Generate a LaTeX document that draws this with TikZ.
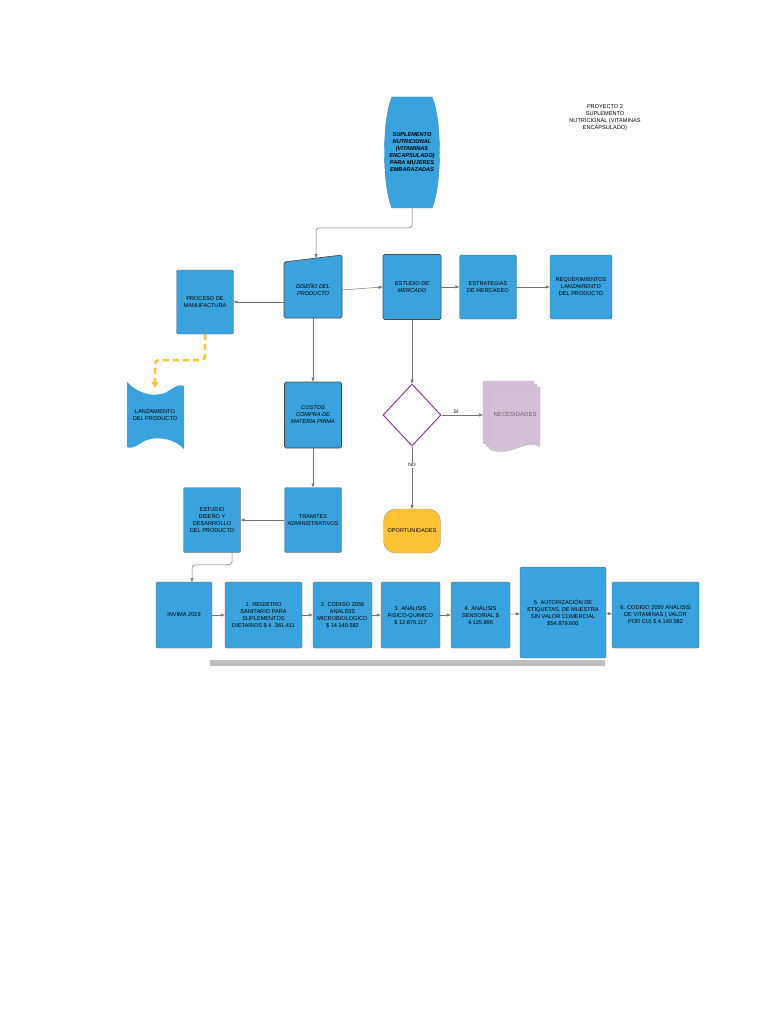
\documentclass[tikz,border=0pt]{standalone}
\usepackage{fontspec}
\setmainfont{Liberation Sans}
\usetikzlibrary{arrows.meta,shapes.geometric,shapes.symbols}
\definecolor{bl}{HTML}{3AA3DD}
\definecolor{lil}{HTML}{D5BED8}
\definecolor{yel}{HTML}{FDC235}
\definecolor{pur}{HTML}{8E3E96}
\begin{document}
\begin{tikzpicture}[x=1pt,y=-1pt,
 box/.style={draw=black!60,fill=bl,rounded corners=1.5pt,minimum width=#1,align=center,font=\fontsize{5.6}{7}\selectfont,inner sep=1pt},
 box/.default=58pt,
 lab/.style={font=\fontsize{5.6}{7}\selectfont,align=center},
 arr/.style={draw=black!55,-{Triangle[length=4pt,width=3pt]},line width=0.5pt}]
\useasboundingbox (0,0) rectangle (768,1024);
% title
\node[lab] (title) at (605,118) {PROYECTO 2\\SUPLEMENTO\\NUTRICIONAL (VITAMINAS\\ENCAPSULADO)};
% capsule
\path[fill=bl,draw=bl!80!black] (392,97) -- (432,97) .. controls (442,120) and (442,185) .. (432,208) -- (392,208) .. controls (382,185) and (382,120) .. (392,97) -- cycle;
\node[lab,font=\fontsize{5.6}{7}\selectfont\bfseries\itshape] (cap) at (412,152) {SUPLEMENTO\\NUTRICIONAL\\(VITAMINAS\\ENCAPSULADO)\\PARA MUJERES\\EMBARAZADAS};
\coordinate (capb) at (412,208);
% diseño (manual input)
\path[fill=bl,draw=black!70,line width=0.7pt,rounded corners=1.5pt] (284,262) -- (342,255) -- (342,318) -- (284,318) -- cycle;
\node[lab,font=\fontsize{5.6}{7}\selectfont\itshape,minimum width=58pt,minimum height=56pt] (dis) at (313,290) {DISEÑO DEL\\PRODUCTO};
\node[box,minimum height=65pt,draw=black!70,line width=0.7pt,font=\fontsize{5.6}{7}\selectfont\itshape] (mer) at (412,287) {ESTUDIO DE\\MERCADO};
\node[box=57pt,minimum height=64pt] (est) at (488,287) {ESTRATEGIAS\\DE MERCADEO};
\node[box=62pt,minimum height=64pt] (req) at (581,287) {REQUERIMIENTOS\\LANZAMIENTO\\DEL PRODUCTO};
\node[box=57pt,minimum height=64pt] (pro) at (205,302) {PROCESO DE\\MANUFACTURA};
% lanzamiento tape
\path[fill=bl] (127,382) .. controls (140,396) and (160,398) .. (170,390) .. controls (176,386) and (180,384) .. (184,386) -- (184,449) .. controls (172,436) and (150,436) .. (141,443) .. controls (135,447) and (130,449) .. (127,447) -- cycle;
\node[lab,minimum width=57pt,minimum height=50pt] (lan) at (155,415) {LANZAMIENTO\\DEL PRODUCTO};
\node[box=57pt,minimum height=66pt,draw=black!70,line width=0.7pt,font=\fontsize{5.6}{7}\selectfont\itshape] (cos) at (313,415) {COSTOS\\COMPRA DE\\MATERIA PRIMA};
\node[diamond,draw=pur,line width=1pt,fill=white,minimum width=58pt,minimum height=62pt,inner sep=0] (dia) at (412,415) {};
% necesidades stack
\foreach \d in {0,3,6}{
 \path[fill=lil,draw=black!30,line width=0.3pt,rounded corners=1pt] (483+\d,381+\d) -- (534+\d,381+\d) -- (534+\d,441+\d) .. controls (520+\d,432+\d) and (505+\d,452+\d) .. (483+\d,443+\d) -- cycle;}
\node[lab,font=\fontsize{6}{7}\selectfont,text=black!60,minimum width=50pt,minimum height=50pt] (nec) at (515,414) {NECESIDADES};
\node[box=57pt,minimum height=65pt] (tra) at (313,520) {TRAMITES\\ADMINISTRATIVOS};
\node[box=57pt,minimum height=65pt] (edp) at (212,520) {ESTUDIO\\DISEÑO Y\\DESARROLLO\\DEL PRODUCTO};
\node[draw=black!40,fill=yel,rounded corners=12pt,minimum width=57pt,minimum height=44pt,font=\fontsize{5.6}{7}\selectfont,inner sep=0] (opo) at (412,531) {OPORTUNIDADES};
% bottom row
\fill[black!25] (210,660) rectangle (605,666);
\node[box=56pt,minimum height=66pt] (inv) at (184,615) {INVIMA 2019};
\node[box=77pt,minimum height=66pt] (r1) at (263.5,615) {1. REGISTRO\\SANITARIO PARA\\SUPLEMENTOS\\DIETARIOS \$ 4. 361.411};
\node[box=59pt,minimum height=66pt] (r2) at (342.5,615) {2. CODIGO 2056\\ANALISIS\\MICROBIOLOGICO\\\$ 14.140.582};
\node[box=59pt,minimum height=66pt] (r3) at (410.5,615) {3. ANÁLISIS\\FISICO-QUIMICO\\\$ 12.876.117};
\node[box=59pt,minimum height=66pt] (r4) at (480.5,615) {4. ANÁLISIS\\SENSORIAL \$\\4.125.896};
\node[box=86pt,minimum height=91pt] (r5) at (563,612.5) {5. AUTORIZACIÓN DE\\ETIQUETAS, DE MUESTRA\\SIN VALOR COMERCIAL\\\$54.879.600};
\node[box=87pt,minimum height=66pt] (r6) at (655.5,615) {6. CODIGO 2050 ANALISIS\\DE VITAMINAS ( VALOR\\POR CU) \$ 4.140.582};
% connectors
\draw[arr,rounded corners=3pt] (capb) -- (412,228) -- (316,228) -- (316,258);
\draw[arr] (dis.east) -- (mer.west);
\draw[arr] (dis.west |- pro.east) -- (pro.east);
\draw[arr] (313,318) -- (cos.north);
\draw[arr] (mer) -- (est);
\draw[arr] (est) -- (req);
\draw[arr] (mer.south) -- (dia.north);
\draw[arr] (dia.east) -- node[pos=0.35,above,font=\fontsize{5}{6}\selectfont,inner sep=1pt]{SÍ} (483,415);
\draw[arr] (dia.south) -- node[pos=0.3,fill=white,font=\fontsize{5}{6}\selectfont,inner sep=1pt]{NO} (opo.north);
\draw[yel,line width=2.5pt,dash pattern=on 6pt off 4pt,-{Triangle[length=6pt,width=7pt]},rounded corners=4pt] (pro.south) -- (205,360) -- (155,360) -- (155,388);
\draw[arr] (cos) -- (tra);
\draw[arr] (tra) -- (edp);
\draw[arr,rounded corners=3pt] (edp.south) ++(20,0) -- ++(0,12) -- (192,565) -- (192,582);
\foreach \a/\b in {inv/r1,r1/r2,r2/r3,r3/r4,r4/r5,r5/r6}{\draw[arr] (\a) -- (\b);}
\end{tikzpicture}
\end{document}
